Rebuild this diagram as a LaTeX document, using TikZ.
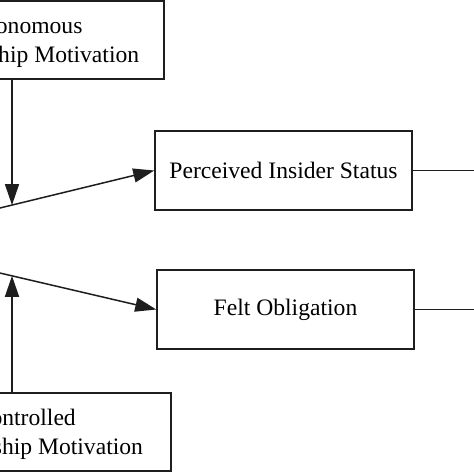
\documentclass[tikz,border=0pt]{standalone}
\usepackage{fontspec}
\setmainfont{Liberation Serif}
\usetikzlibrary{arrows.meta}
\newcommand{\twolines}[2]{\raisebox{-2.5pt}[\height][\depth]{\begin{tabular}{@{}c@{}}#1\\#2\end{tabular}}}
\definecolor{ink}{HTML}{1E1E1E}
\begin{document}
\begin{tikzpicture}[x=1pt,y=-1pt,
  box/.style={draw=ink,line width=1.5pt,fill=white,rectangle,inner sep=0pt,
    font=\fontsize{23.6}{29}\selectfont},
  conn/.style={line width=1.5pt,draw=ink},
  arr/.style={conn,-{Triangle[length=21pt,width=14pt]}}]
\useasboundingbox (0,0) rectangle (474,474);
\clip (0,0) rectangle (474,474);
\fill[white] (0,0) rectangle (474,474);
% nodes
\node[box,minimum width=285pt,minimum height=78pt] (auto) at (21.5,40)
  {\twolines{Autonomous}{Followership Motivation}};
\node[box,minimum width=291.4pt,minimum height=78pt] (ctrl) at (25.3,432)
  {\twolines{Controlled}{Followership Motivation}};
\node[box,minimum width=257pt,minimum height=79pt] (pis) at (283.5,170.5) {Perceived Insider Status};
\node[box,minimum width=257pt,minimum height=79pt] (fo) at (285.5,309.5) {Felt Obligation};
% free ends
\coordinate (L1) at (-40,217.7);
\coordinate (L2) at (-40,263.7);
\coordinate (R1) at (500,170.5);
\coordinate (R2) at (500,309.5);
\coordinate (m1) at (12,205.1);
\coordinate (m2) at (12,275.8);
% connectors
\draw[arr] (L1) -- (pis.west);
\draw[arr] (L2) -- (fo.west);
\draw[conn] (pis.east) -- (R1);
\draw[conn] (fo.east) -- (R2);
\draw[arr] (m1 |- auto.south) -- (m1);
\draw[arr] (m2 |- ctrl.north) -- (m2);
\end{tikzpicture}
\end{document}
